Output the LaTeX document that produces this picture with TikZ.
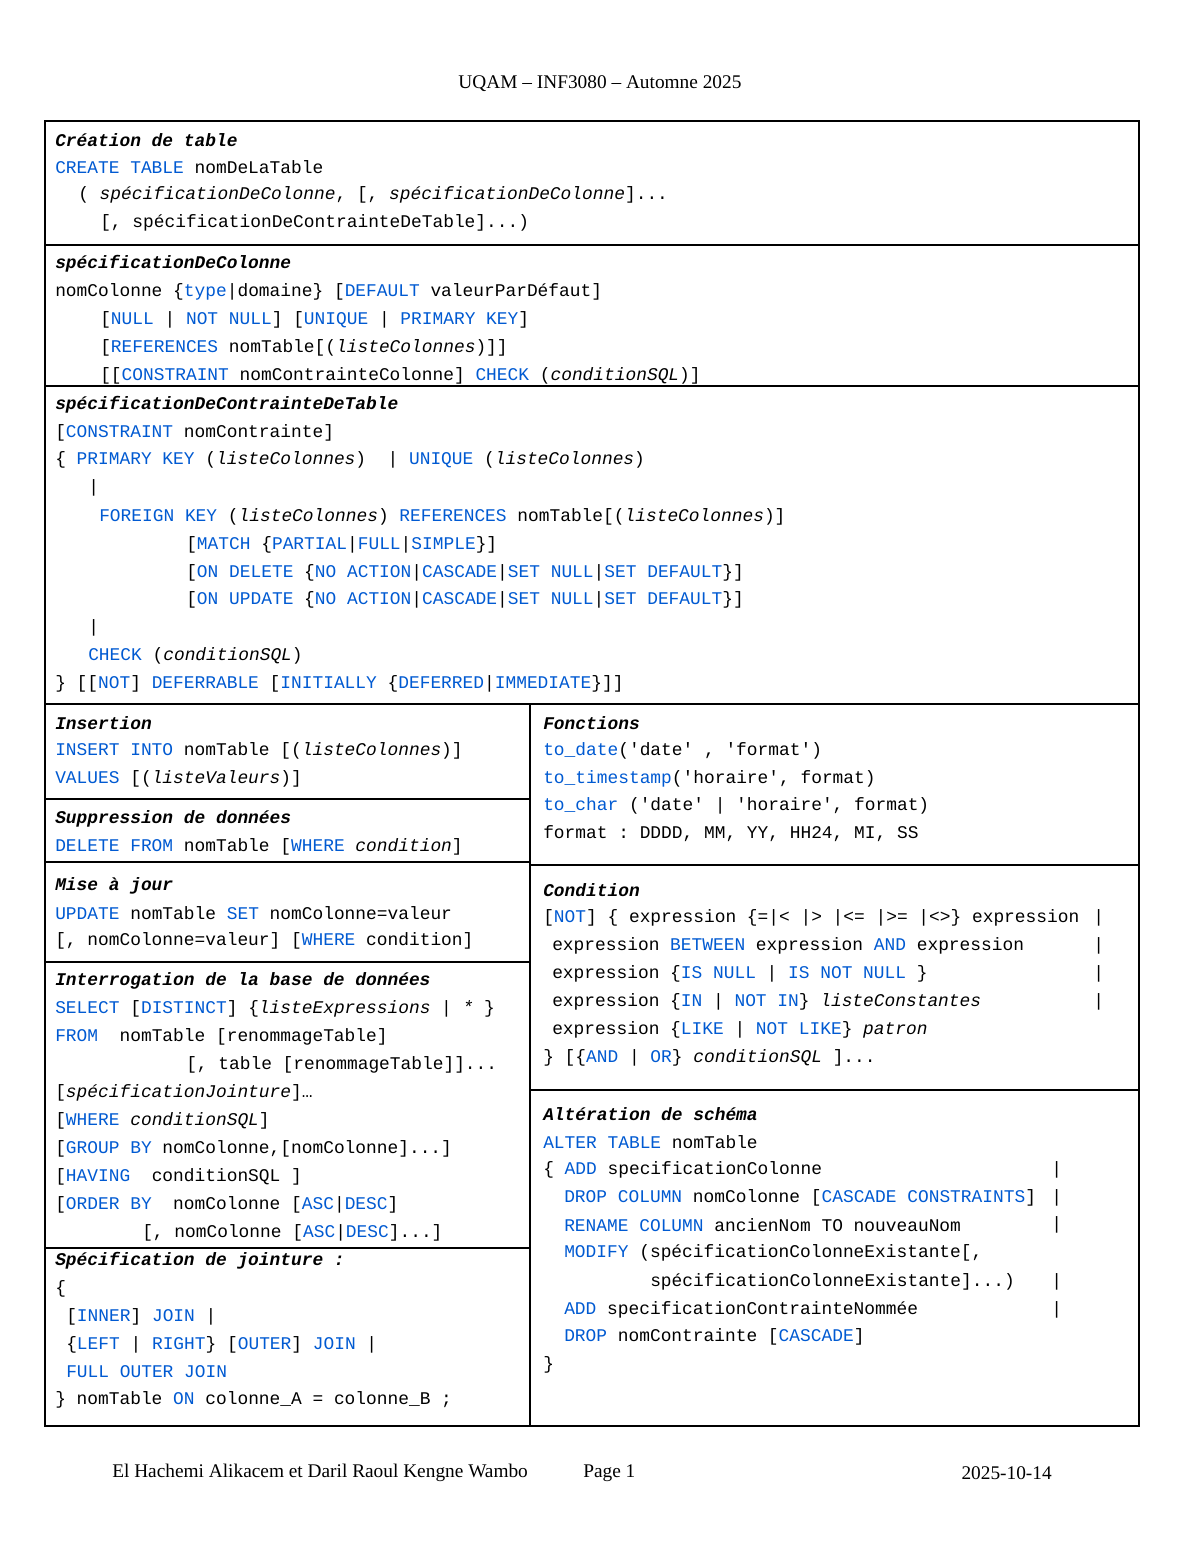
\documentclass[tikz,border=0pt]{standalone}
\usepackage{fontspec}
\setmainfont{Liberation Serif}
\setmonofont{Liberation Mono}
\definecolor{kw}{RGB}{0,90,210}
\newcounter{ln}
\newcommand\kw[1]{\textcolor{kw}{#1}}
\newcommand\tit[1]{\textbf{\textit{#1}}}
\newcommand\Ln[3]{\stepcounter{ln}\node[txt] (l\arabic{ln}) at (#1,#2) {#3};}
\begin{document}
\begin{tikzpicture}[x=0.75pt,y=-0.75pt,
  txt/.style={anchor=west,inner sep=0pt,yshift=-1.5pt,font=\fontsize{13.4}{15}\ttfamily},
  rule/.style={line width=1.3pt},
  hdr/.style={inner sep=0pt,yshift=-1.5pt,font=\fontsize{14.5}{17}\selectfont}]
\useasboundingbox (0,0) rectangle (1200,1553);
\fill[white] (0,0) rectangle (1200,1553);
% frame
\draw[rule] (45,121) rectangle (1139,1426);
\draw[rule] (45,245) -- (1139,245);
\draw[rule] (45,386) -- (1139,386);
\draw[rule] (45,704) -- (1139,704);
\draw[rule] (530,704) -- (530,1426);
\draw[line width=2pt] (45,799) -- (530,799);
\draw[rule] (45,862) -- (530,862);
\draw[line width=2pt] (45,962) -- (530,962);
\draw[line width=2pt] (45,1248) -- (530,1248);
\draw[line width=2pt] (530,865) -- (1139,865);
\draw[line width=2pt] (530,1090) -- (1139,1090);
% header/footer
\node[hdr] (h) at (600,82) {UQAM – INF3080 – Automne 2025};
\node[hdr,anchor=west] (f1) at (112,1471) {El Hachemi Alikacem et Daril Raoul Kengne Wambo};
\node[hdr,anchor=west] (f2) at (583,1471) {Page 1};
\node[hdr,anchor=east] (f3) at (1052,1471) {2025-10-14};
% box 1
\Ln{55}{138}{\tit{Création de table}}
\Ln{55}{165}{\kw{CREATE TABLE} nomDeLaTable}
\Ln{78}{193}{( \textit{spécificationDeColonne}, [, \textit{spécificationDeColonne}]...}
\Ln{100}{221}{[, spécificationDeContrainteDeTable]...)}
% box 2
\Ln{55}{262}{\tit{spécificationDeColonne}}
\Ln{55}{290}{nomColonne \{\kw{type}|domaine\} [\kw{DEFAULT} valeurParDéfaut]}
\Ln{100}{318}{[\kw{NULL} | \kw{NOT NULL}] [\kw{UNIQUE} | \kw{PRIMARY KEY}]}
\Ln{100}{346}{[\kw{REFERENCES} nomTable[(\textit{listeColonnes})]]}
\Ln{100}{374}{[[\kw{CONSTRAINT} nomContrainteColonne] \kw{CHECK} (\textit{conditionSQL})]}
% box 3
\Ln{55}{403}{\tit{spécificationDeContrainteDeTable}}
\Ln{55}{431}{[\kw{CONSTRAINT} nomContrainte]}
\Ln{55}{458}{\{ \kw{PRIMARY KEY} (\textit{listeColonnes})~~| \kw{UNIQUE} (\textit{listeColonnes})}
\Ln{88}{486}{|}
\Ln{99}{515}{\kw{FOREIGN KEY} (\textit{listeColonnes}) \kw{REFERENCES} nomTable[(\textit{listeColonnes})]}
\Ln{186}{543}{[\kw{MATCH} \{\kw{PARTIAL}|\kw{FULL}|\kw{SIMPLE}\}]}
\Ln{186}{571}{[\kw{ON DELETE} \{\kw{NO ACTION}|\kw{CASCADE}|\kw{SET NULL}|\kw{SET DEFAULT}\}]}
\Ln{186}{598}{[\kw{ON UPDATE} \{\kw{NO ACTION}|\kw{CASCADE}|\kw{SET NULL}|\kw{SET DEFAULT}\}]}
\Ln{88}{626}{|}
\Ln{88}{654}{\kw{CHECK} (\textit{conditionSQL})}
\Ln{55}{682}{\} [[\kw{NOT}] \kw{DEFERRABLE} [\kw{INITIALLY} \{\kw{DEFERRED}|\kw{IMMEDIATE}\}]]}
% insertion
\Ln{55}{721}{\tit{Insertion}}
\Ln{55}{749}{\kw{INSERT INTO} nomTable [(\textit{listeColonnes})]}
\Ln{55}{777}{\kw{VALUES} [(\textit{listeValeurs})]}
\Ln{55}{817}{\tit{Suppression de données}}
\Ln{55}{845}{\kw{DELETE FROM} nomTable [\kw{WHERE} \textit{condition}]}
\Ln{55}{884}{\tit{Mise à jour}}
\Ln{55}{911}{\kw{UPDATE} nomTable \kw{SET} nomColonne=valeur}
\Ln{55}{939}{[, nomColonne=valeur] [\kw{WHERE} condition]}
\Ln{55}{979}{\tit{Interrogation de la base de données}}
\Ln{55}{1007}{\kw{SELECT} [\kw{DISTINCT}] \{\textit{listeExpressions} | \textit{*} \}}
\Ln{55}{1035}{\kw{FROM}~~nomTable [renommageTable]}
\Ln{186}{1063}{[, table [renommageTable]]...}
\Ln{55}{1091}{[\textit{spécificationJointure}]…}
\Ln{55}{1119}{[\kw{WHERE} \textit{conditionSQL}]}
\Ln{55}{1147}{[\kw{GROUP BY} nomColonne,[nomColonne]...]}
\Ln{55}{1175}{[\kw{HAVING}~~conditionSQL ]}
\Ln{55}{1203}{[\kw{ORDER BY}~~nomColonne [\kw{ASC}|\kw{DESC}]}
\Ln{142}{1231}{[, nomColonne [\kw{ASC}|\kw{DESC}]...]}
\Ln{55}{1259}{\tit{Spécification de jointure :}}
\Ln{55}{1287}{\{}
\Ln{66}{1315}{[\kw{INNER}] \kw{JOIN} |}
\Ln{66}{1343}{\{\kw{LEFT} | \kw{RIGHT}\} [\kw{OUTER}] \kw{JOIN} |}
\Ln{66}{1370}{\kw{FULL OUTER JOIN}}
\Ln{55}{1398}{\} nomTable \kw{ON} colonne\_A = colonne\_B ;}
% right column
\Ln{543}{721}{\tit{Fonctions}}
\Ln{543}{749}{\kw{to\_date}('date' , 'format')}
\Ln{543}{777}{\kw{to\_timestamp}('horaire', format)}
\Ln{543}{804}{\kw{to\_char} ('date' | 'horaire', format)}
\Ln{543}{832}{format : DDDD, MM, YY, HH24, MI, SS}
\Ln{543}{888}{\tit{Condition}}
\Ln{543}{916}{[\kw{NOT}] \{ expression \{=|< |> |<= |>= |<>\} expression}
\Ln{552}{944}{expression \kw{BETWEEN} expression \kw{AND} expression}
\Ln{552}{972}{expression \{\kw{IS NULL} | \kw{IS NOT NULL} \}}
\Ln{552}{1000}{expression \{\kw{IN} | \kw{NOT IN}\} \textit{listeConstantes}}
\Ln{552}{1028}{expression \{\kw{LIKE} | \kw{NOT LIKE}\} \textit{patron}}
\Ln{543}{1056}{\} [\{\kw{AND} | \kw{OR}\} \textit{conditionSQL} ]...}
\foreach \yy in {916,944,972,1000} {\Ln{1093}{\yy}{|}}
\Ln{543}{1112}{\tit{Altération de schéma}}
\Ln{543}{1140}{\kw{ALTER TABLE} nomTable}
\Ln{543}{1168}{\{ \kw{ADD} specificationColonne}
\Ln{564}{1196}{\kw{DROP COLUMN} nomColonne [\kw{CASCADE CONSTRAINTS}]}
\Ln{564}{1223}{\kw{RENAME COLUMN} ancienNom TO nouveauNom}
\Ln{564}{1251}{\kw{MODIFY} (spécificationColonneExistante[,}
\Ln{650}{1280}{spécificationColonneExistante]...)}
\Ln{564}{1308}{\kw{ADD} specificationContrainteNommée}
\Ln{564}{1335}{\kw{DROP} nomContrainte [\kw{CASCADE}]}
\Ln{543}{1363}{\}}
\foreach \yy in {1168,1196,1223,1280,1308} {\Ln{1051}{\yy}{|}}
\end{tikzpicture}
\end{document}
